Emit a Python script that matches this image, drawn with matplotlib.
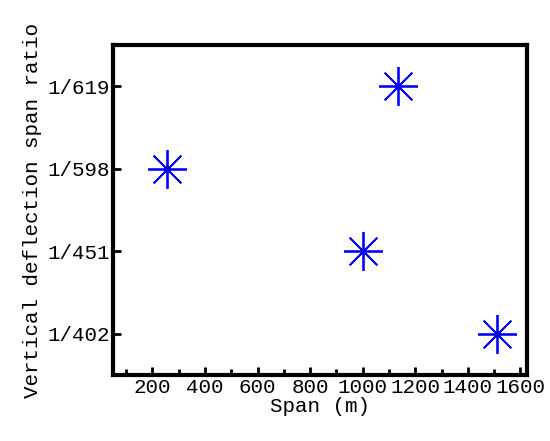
import matplotlib
matplotlib.use("Agg")
from matplotlib import pyplot as plt
from matplotlib.ticker import MultipleLocator

# Data
span = [255, 1000, 1135, 1510]
ratio_labels = ['1/402', '1/451', '1/598', '1/619']
ratio = ['1/598', '1/451', '1/619', '1/402']

plt.rcParams['font.family'] = ['Liberation Mono', 'DejaVu Sans']

fig = plt.figure(figsize=(5.5, 4.41), dpi=100)
ax = fig.add_axes([113/550, 1-375/441, 414/550, 330/441])

y = [ratio_labels.index(r) for r in ratio]
ax.plot(span, y, linestyle='none', marker=(8, 2, 0), markersize=28,
        markeredgewidth=1.3, color='#0000ff')

ax.set_xlim(50, 1625)
ax.set_ylim(-0.5, 3.5)
ax.set_xticks(range(200, 1601, 200))
ax.xaxis.set_minor_locator(MultipleLocator(100))
ax.set_yticks(range(len(ratio_labels)))
ax.set_yticklabels(ratio_labels)
ax.tick_params(direction='in', width=2, length=6, labelsize=15, pad=2)
ax.tick_params(which='minor', direction='in', width=2, length=4)
for s in ax.spines.values():
    s.set_linewidth(3)

ax.set_xlabel('Span (m)', fontsize=15, labelpad=0)
ax.set_ylabel('Vertical deflection span ratio', fontsize=15, labelpad=4)

fig.savefig('out.png', dpi=100)
